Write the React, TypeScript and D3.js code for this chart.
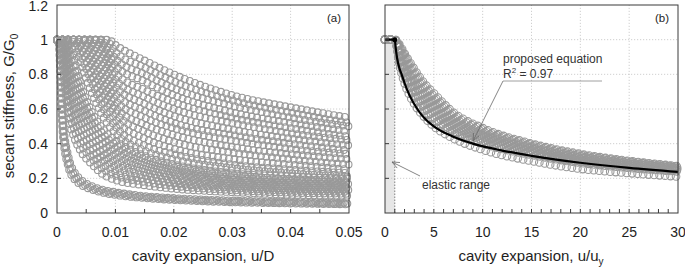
import React, { useEffect, useRef } from 'react';
import * as d3 from 'd3';

// ---------- data ----------
// left panel: G/G0 vs u/D, values at LEFT_X; each series flat at 1 until its yield point
const LEFT_X = [0.001, 0.002, 0.003, 0.004, 0.006, 0.008, 0.01, 0.015, 0.02, 0.03, 0.04, 0.05];
const LEFT_YIELD = [
  0.0004, 0.0003, 0.0002,
  0.002, 0.00183, 0.00167, 0.0015, 0.00133, 0.00117, 0.001, 0.00083, 0.00067, 0.0005,
  0.0088, 0.0083, 0.0078, 0.0073, 0.0068, 0.0063, 0.0058, 0.0053, 0.0048, 0.0043, 0.0038, 0.0033, 0.0028, 0.0023,
];
const LEFT_G = [
  [0.55, 0.32, 0.235, 0.195, 0.155, 0.133, 0.12, 0.098, 0.086, 0.072, 0.064, 0.058],
  [0.50, 0.29, 0.215, 0.18, 0.145, 0.124, 0.112, 0.092, 0.08, 0.067, 0.059, 0.054],
  [0.45, 0.26, 0.195, 0.165, 0.135, 0.116, 0.104, 0.086, 0.075, 0.062, 0.055, 0.05],
  [1, 1, 0.88, 0.75, 0.58, 0.48, 0.42, 0.33, 0.28, 0.23, 0.21, 0.20],
  [1, 0.95, 0.83, 0.707, 0.547, 0.451, 0.394, 0.311, 0.264, 0.218, 0.198, 0.189],
  [1, 0.90, 0.78, 0.663, 0.513, 0.422, 0.369, 0.292, 0.249, 0.206, 0.187, 0.178],
  [1, 0.85, 0.73, 0.62, 0.48, 0.393, 0.343, 0.273, 0.233, 0.193, 0.175, 0.167],
  [1, 0.80, 0.68, 0.577, 0.447, 0.364, 0.318, 0.254, 0.218, 0.181, 0.163, 0.156],
  [1, 0.75, 0.63, 0.533, 0.413, 0.336, 0.292, 0.236, 0.202, 0.169, 0.152, 0.144],
  [1, 0.70, 0.58, 0.49, 0.38, 0.307, 0.267, 0.217, 0.187, 0.157, 0.14, 0.133],
  [0.96, 0.65, 0.53, 0.447, 0.347, 0.278, 0.241, 0.198, 0.171, 0.144, 0.128, 0.122],
  [0.91, 0.60, 0.48, 0.403, 0.313, 0.249, 0.216, 0.179, 0.156, 0.132, 0.117, 0.111],
  [0.85, 0.55, 0.43, 0.36, 0.28, 0.22, 0.19, 0.16, 0.14, 0.12, 0.105, 0.10],
  [1, 1, 1, 1, 1, 1, 0.97, 0.88, 0.80, 0.68, 0.61, 0.55],
  [1, 1, 1, 1, 1, 1, 0.93, 0.84, 0.76, 0.65, 0.58, 0.52],
  [1, 1, 1, 1, 1, 0.99, 0.89, 0.80, 0.72, 0.62, 0.55, 0.50],
  [1, 1, 1, 1, 1, 0.97, 0.85, 0.76, 0.68, 0.58, 0.52, 0.47],
  [1, 1, 1, 1, 1, 0.94, 0.81, 0.71, 0.64, 0.55, 0.49, 0.44],
  [1, 1, 1, 1, 1, 0.91, 0.77, 0.67, 0.60, 0.52, 0.46, 0.42],
  [1, 1, 1, 1, 0.99, 0.87, 0.73, 0.63, 0.56, 0.48, 0.43, 0.39],
  [1, 1, 1, 1, 0.96, 0.83, 0.69, 0.59, 0.52, 0.45, 0.40, 0.36],
  [1, 1, 1, 1, 0.93, 0.78, 0.65, 0.55, 0.49, 0.42, 0.37, 0.34],
  [1, 1, 1, 1, 0.89, 0.74, 0.61, 0.51, 0.45, 0.38, 0.34, 0.31],
  [1, 1, 1, 0.99, 0.85, 0.70, 0.58, 0.47, 0.41, 0.35, 0.31, 0.28],
  [1, 1, 1, 0.96, 0.80, 0.65, 0.54, 0.43, 0.37, 0.31, 0.28, 0.25],
  [1, 1, 1, 0.92, 0.75, 0.60, 0.50, 0.39, 0.34, 0.28, 0.25, 0.23],
  [1, 1, 0.97, 0.87, 0.69, 0.55, 0.46, 0.36, 0.31, 0.26, 0.23, 0.21],
];

// right panel: G/G0 vs u/uy
const RIGHT_U = [1, 1.5, 2, 3, 4, 5, 7, 10, 15, 20, 25, 30];
const RIGHT_G = [
  [1, 0.88, 0.79, 0.67, 0.595, 0.54, 0.46, 0.40, 0.335, 0.29, 0.26, 0.24],
  [1, 0.89, 0.804, 0.688, 0.612, 0.557, 0.473, 0.41, 0.342, 0.296, 0.264, 0.243],
  [1, 0.90, 0.819, 0.706, 0.629, 0.573, 0.487, 0.42, 0.349, 0.301, 0.269, 0.247],
  [1, 0.91, 0.833, 0.723, 0.647, 0.59, 0.50, 0.43, 0.357, 0.307, 0.273, 0.25],
  [1, 0.92, 0.848, 0.741, 0.664, 0.607, 0.513, 0.44, 0.364, 0.312, 0.278, 0.253],
  [1, 0.93, 0.862, 0.759, 0.681, 0.623, 0.527, 0.45, 0.371, 0.318, 0.282, 0.257],
  [1, 0.94, 0.877, 0.777, 0.698, 0.64, 0.54, 0.46, 0.378, 0.323, 0.287, 0.26],
  [1, 0.95, 0.891, 0.794, 0.716, 0.657, 0.553, 0.47, 0.386, 0.329, 0.291, 0.263],
  [1, 0.96, 0.906, 0.812, 0.733, 0.673, 0.567, 0.48, 0.393, 0.334, 0.296, 0.267],
  [1, 0.97, 0.92, 0.83, 0.75, 0.69, 0.58, 0.49, 0.40, 0.34, 0.30, 0.27],
  [1, 0.85, 0.75, 0.63, 0.555, 0.50, 0.43, 0.365, 0.30, 0.255, 0.23, 0.21],
];
// proposed equation
const EQ_U = [0, 1, 1.1, 1.25, 1.5, 1.7, 2, 2.5, 3.3, 4, 5, 7, 9, 12, 15, 20, 25, 30];
const EQ_G = [1, 1, 0.95, 0.89, 0.83, 0.80, 0.75, 0.68, 0.60, 0.55, 0.50, 0.44, 0.40, 0.36, 0.33, 0.29, 0.26, 0.237];

const Y_TICKS = [0, 0.2, 0.4, 0.6, 0.8, 1, 1.2];
const Y_LABELS = ['0', '0.2', '0.4', '0.6', '0.8', '1', '1.2'];
const LX_TICKS = [0, 0.01, 0.02, 0.03, 0.04, 0.05];
const LX_LABELS = ['0', '0.01', '0.02', '0.03', '0.04', '0.05'];
const RX_TICKS = [0, 5, 10, 15, 20, 25, 30];
const RX_LABELS = ['0', '5', '10', '15', '20', '25', '30'];

const FONT = 'Liberation Sans, Arial, sans-serif';
const CIRCLE = '#999999';
const FRAME = '#3a3a3a';
const TXT = '#1e1e1e';

export default function App() {
  const ref = useRef<SVGSVGElement>(null);

  useEffect(() => {
    const svg = d3.select(ref.current);
    svg.selectAll('*').remove();

    const yS = d3.scaleLinear().domain([0, 1.2]).range([213, 5]);
    const xA = d3.scaleLinear().domain([0, 0.05]).range([57, 349]);
    const xB = d3.scaleLinear().domain([0, 30]).range([385, 678]);

    const markers = (g: any, pts: [number, number][], xs: any, step: number, r: number) => {
      const line = d3.line<[number, number]>().x(d => xs(d[0])).y(d => yS(d[1])).curve(d3.curveMonotoneX);
      const path = g.append('path').attr('d', line(pts)).attr('fill', 'none');
      const node = path.node() as SVGPathElement;
      const L = node.getTotalLength();
      path.remove();
      for (let s = 0; s <= L + 0.01; s += step) {
        const p = node.getPointAtLength(Math.min(s, L));
        g.append('circle').attr('cx', p.x).attr('cy', p.y).attr('r', r)
          .attr('fill', 'none').attr('stroke', CIRCLE).attr('stroke-width', 1.1);
      }
    };

    const panel = (xs: any, xTicks: number[], xLabels: string[], showY: boolean) => {
      const g = svg.append('g');
      const [x0, x1] = xs.range();
      xTicks.slice(1, -1).forEach(t => {
        g.append('line').attr('x1', xs(t)).attr('x2', xs(t)).attr('y1', yS(0)).attr('y2', yS(1.2))
          .attr('stroke', '#c4c4c4').attr('stroke-width', 0.8).attr('stroke-dasharray', '1.2,1.8');
      });
      Y_TICKS.slice(1, -1).forEach(t => {
        g.append('line').attr('x1', x0).attr('x2', x1).attr('y1', yS(t)).attr('y2', yS(t))
          .attr('stroke', '#c4c4c4').attr('stroke-width', 0.8).attr('stroke-dasharray', '1.2,1.8');
      });
      xTicks.forEach((t, i) => {
        svg.append('text').attr('x', xs(t)).attr('y', 237).attr('text-anchor', 'middle')
          .attr('font-family', FONT).attr('font-size', 14).attr('fill', TXT).text(xLabels[i]);
      });
      if (showY) {
        Y_TICKS.forEach((t, i) => {
          svg.append('text').attr('x', 48).attr('y', Math.max(yS(t) + 5, 11)).attr('text-anchor', 'end')
            .attr('font-family', FONT).attr('font-size', 14).attr('fill', TXT).text(Y_LABELS[i]);
        });
      }
      return g;
    };

    const frame = (xs: any, minorStep: number) => {
      const [x0, x1] = xs.range();
      const g = svg.append('g');
      const d0 = xs.domain();
      const n = Math.round((d0[1] - d0[0]) / minorStep);
      for (let i = 1; i < n; i++) {
        const t = d0[0] + i * minorStep;
        g.append('line').attr('x1', xs(t)).attr('x2', xs(t)).attr('y1', yS(0)).attr('y2', yS(0) - 4)
          .attr('stroke', FRAME).attr('stroke-width', 1);
      }
      Y_TICKS.slice(1, -1).forEach(t => {
        g.append('line').attr('x1', x0).attr('x2', x0 + 4).attr('y1', yS(t)).attr('y2', yS(t))
          .attr('stroke', FRAME).attr('stroke-width', 1);
      });
      g.append('rect').attr('x', x0).attr('y', yS(1.2)).attr('width', x1 - x0).attr('height', yS(0) - yS(1.2))
        .attr('fill', 'none').attr('stroke', FRAME).attr('stroke-width', 1);
    };

    // ---------- panel (a) ----------
    const gA = panel(xA, LX_TICKS, LX_LABELS, true);
    LEFT_G.forEach((vals, i) => {
      const y0 = LEFT_YIELD[i];
      const pts: [number, number][] = [[0, 1], [y0, 1]];
      LEFT_X.forEach((x, k) => { if (x > y0 + 1e-9) pts.push([x, vals[k]]); });
      markers(gA, pts, xA, 5.5, 3.4);
    });
    frame(xA, 0.005);

    // ---------- panel (b) ----------
    svg.append('rect').attr('x', xB(0)).attr('y', yS(1)).attr('width', xB(1) - xB(0)).attr('height', yS(0) - yS(1))
      .attr('fill', '#e6e6e6');
    const gB = panel(xB, RX_TICKS, RX_LABELS, false);
    gB.append('line').attr('x1', xB(1)).attr('x2', xB(1)).attr('y1', yS(0)).attr('y2', yS(1))
      .attr('stroke', '#777').attr('stroke-width', 0.9).attr('stroke-dasharray', '1.5,1.5');
    RIGHT_G.forEach(vals => {
      const pts: [number, number][] = [[0, 1]];
      RIGHT_U.forEach((u, k) => pts.push([u, vals[k]]));
      markers(gB, pts, xB, 5.5, 3.8);
    });
    const eqLine = d3.line<number>().x((d, i) => xB(EQ_U[i])).y(d => yS(d)).curve(d3.curveMonotoneX);
    svg.append('path').attr('d', eqLine(EQ_G)).attr('fill', 'none').attr('stroke', '#000').attr('stroke-width', 2.2);
    svg.append('circle').attr('cx', xB(EQ_U[1])).attr('cy', yS(EQ_G[1])).attr('r', 2.5).attr('fill', '#000');
    frame(xB, 1);

    // ---------- annotations ----------
    const arrow = (xA0: number, yA0: number, xT: number, yT: number) => {
      svg.append('line').attr('x1', xA0).attr('y1', yA0).attr('x2', xT).attr('y2', yT)
        .attr('stroke', '#666').attr('stroke-width', 0.8);
      const ang = Math.atan2(yA0 - yT, xA0 - xT);
      [0.4, -0.4].forEach(da => {
        svg.append('line').attr('x1', xT).attr('y1', yT)
          .attr('x2', xT + 8 * Math.cos(ang + da)).attr('y2', yT + 8 * Math.sin(ang + da))
          .attr('stroke', '#666').attr('stroke-width', 0.8);
      });
    };
    svg.append('line').attr('x1', 503).attr('x2', 602).attr('y1', 81).attr('y2', 81)
      .attr('stroke', '#888').attr('stroke-width', 0.8);
    arrow(503, 81, 473, 141);
    svg.append('text').attr('x', 503).attr('y', 63).attr('font-family', FONT).attr('font-size', 12)
      .attr('fill', '#333').text('proposed equation');
    const r2 = svg.append('text').attr('x', 503).attr('y', 77.5).attr('font-family', FONT).attr('font-size', 12)
      .attr('fill', '#333');
    r2.append('tspan').text('R');
    r2.append('tspan').attr('dy', -4.5).attr('font-size', 8).text('2');
    r2.append('tspan').attr('dy', 4.5).text(' = 0.97');

    arrow(420, 176, 392, 162);
    svg.append('text').attr('x', 422).attr('y', 189).attr('font-family', FONT).attr('font-size', 12)
      .attr('fill', '#333').text('elastic range');

    svg.append('text').attr('x', 327).attr('y', 22).attr('font-family', FONT).attr('font-size', 11.5)
      .attr('fill', '#222').text('(a)');
    svg.append('text').attr('x', 655).attr('y', 22).attr('font-family', FONT).attr('font-size', 11.5)
      .attr('fill', '#222').text('(b)');

    svg.append('text').attr('x', 203).attr('y', 261).attr('text-anchor', 'middle').attr('font-family', FONT)
      .attr('font-size', 15).attr('fill', TXT).text('cavity expansion, u/D');
    const tb = svg.append('text').attr('x', 531).attr('y', 261).attr('text-anchor', 'middle').attr('font-family', FONT)
      .attr('font-size', 15).attr('fill', TXT);
    tb.append('tspan').text('cavity expansion, u/u');
    tb.append('tspan').attr('dy', 4).attr('font-size', 10).text('y');
    const ty = svg.append('text').attr('transform', 'translate(14,106) rotate(-90)').attr('text-anchor', 'middle')
      .attr('font-family', FONT).attr('font-size', 15).attr('fill', TXT);
    ty.append('tspan').text('secant stiffness, G/G');
    ty.append('tspan').attr('dy', 4).attr('font-size', 10).text('0');
  }, []);

  return (
    <svg ref={ref} width={685} height={268}
      style={{ position: 'absolute', left: 0, top: 0, background: '#fff' }} />
  );
}
